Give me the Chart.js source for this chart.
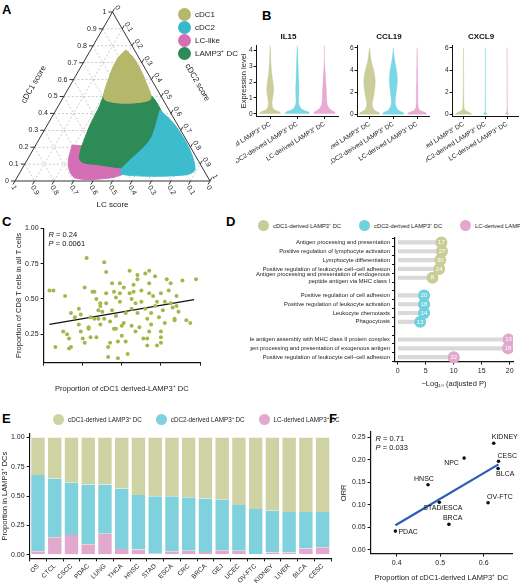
<!DOCTYPE html>
<html><head><meta charset="utf-8">
<script src="https://cdn.jsdelivr.net/npm/chart.js@4.4.0/dist/chart.umd.min.js"></script>
<style>
body{margin:0;width:520px;height:586px;position:relative;background:#fff;font-family:"Liberation Sans",Arial,sans-serif;overflow:hidden}
.p{position:absolute}
.lt{position:absolute;font-weight:bold;font-size:13px}
.lg{position:absolute;font-size:6.3px;color:#222;display:flex;align-items:center;white-space:nowrap}
.dot{display:inline-block;width:11px;height:11px;border-radius:50%;margin:0 4px 0 8px}
</style></head><body>
<div class="lt" style="left:2px;top:2px">A</div>
<div class="lt" style="left:262px;top:8px">B</div>
<div class="lt" style="left:2px;top:214px">C</div>
<div class="lt" style="left:226px;top:214px">D</div>
<div class="lt" style="left:2px;top:411px">E</div>
<div class="lt" style="left:329px;top:411px">F</div>

<canvas id="cA" class="p" style="left:0;top:0" width="260" height="212"></canvas>
<canvas id="cB1" class="p" style="left:236px;top:28px" width="104" height="140"></canvas>
<canvas id="cB2" class="p" style="left:331px;top:28px" width="100" height="140"></canvas>
<canvas id="cB3" class="p" style="left:426px;top:28px" width="94" height="140"></canvas>
<canvas id="cC" class="p" style="left:0;top:222px" width="250" height="175"></canvas>
<canvas id="cD" class="p" style="left:250px;top:232px" width="270" height="160"></canvas>
<canvas id="cE" class="p" style="left:0;top:424px" width="335" height="162"></canvas>
<canvas id="cF" class="p" style="left:335px;top:424px" width="185" height="162"></canvas>

<div class="lg" style="left:170px;top:8px;flex-direction:column;align-items:flex-start;font-size:8px;line-height:12px">
 <div style="display:flex;align-items:center"><span class="dot" style="background:#b5b86a;width:13px;height:13px"></span>cDC1</div>
 <div style="display:flex;align-items:center"><span class="dot" style="background:#36b8cc;width:13px;height:13px"></span>cDC2</div>
 <div style="display:flex;align-items:center"><span class="dot" style="background:#d56fb5;width:13px;height:13px"></span>LC-like</div>
 <div style="display:flex;align-items:center"><span class="dot" style="background:#2e8b57;width:13px;height:13px"></span>LAMP3⁺ DC</div>
</div>
<div class="lg" style="left:250px;top:220px;font-size:5.8px">
 <span class="dot" style="background:#c9cc94"></span>cDC1-derived LAMP3⁺ DC
 <span class="dot" style="background:#6fd0de;margin-left:18px"></span>cDC2-derived LAMP3⁺ DC
 <span class="dot" style="background:#e3a6cc;margin-left:18px"></span>LC-derived LAMP3⁺ DC
</div>
<div class="lg" style="left:45px;top:414px">
 <span class="dot" style="background:#cfd3a4"></span>cDC1-derived LAMP3⁺ DC
 <span class="dot" style="background:#7fd1de;margin-left:14px"></span>cDC2-derived LAMP3⁺ DC
 <span class="dot" style="background:#e3a9cc;margin-left:14px"></span>LC-derived LAMP3⁺ DC
</div>
<script>
Chart.defaults.font.family = '"Liberation Sans", Arial, sans-serif';
Chart.defaults.font.size = 7;
Chart.defaults.color = '#222';
Chart.defaults.animation = false;
Chart.defaults.plugins.legend.display = false;
Chart.defaults.plugins.tooltip.enabled = false;

// ---------- A: ternary score regions, [cDC1 score, cDC2 score]
let regionCDC1 = [[.776,.181],[.717,.257],[.598,.368],[.480,.452],[.480,.222],[.628,.173],[.728,.164]]
let regionCDC2 = [[.420,.534],[.331,.655],[.184,.805],[.065,.890],[.036,.854],[.030,.626],[.053,.512],[.243,.571]]
let regionLAMP3 = [[.728,.210],[.568,.357],[.480,.478],[.331,.619],[.184,.744],[.124,.682],[.077,.551],[.095,.388],[.124,.271],[.302,.223],[.450,.211],[.628,.183]]
let regionLC = [[.213,.186],[.196,.312],[.136,.445],[.053,.537],[.018,.478],[.018,.299],[.095,.225]]
let ternTicks = [0,.1,.2,.3,.4,.5,.6,.7,.8,.9,1]

function tern(c1, c2){ return {x: c2 + c1/2, y: c1*0.866} }
function poly(list){ let pts = list.map(p => tern(p[0],p[1])); pts.push(pts[0]); return pts }

let ternPlugin = {
  id:'tern',
  beforeDatasetsDraw(chart){
    let ctx = chart.ctx, xs = chart.scales.x, ys = chart.scales.y
    let P = (c1,c2) => { let t = tern(c1,c2); return [xs.getPixelForValue(t.x), ys.getPixelForValue(t.y)] }
    ctx.save(); ctx.strokeStyle='#aaa'; ctx.lineWidth=0.6; ctx.setLineDash([2,2])
    for(let v of ternTicks.slice(1,10)){
      let segs = [[P(v,0),P(v,1-v)],[P(0,v),P(1-v,v)],[P(1-v,0),P(0,1-v)]]
      for(let s of segs){ ctx.beginPath(); ctx.moveTo(...s[0]); ctx.lineTo(...s[1]); ctx.stroke() }
    }
    ctx.restore()
  },
  afterDatasetsDraw(chart){
    let ctx = chart.ctx, xs = chart.scales.x, ys = chart.scales.y
    let P = (c1,c2) => { let t = tern(c1,c2); return [xs.getPixelForValue(t.x), ys.getPixelForValue(t.y)] }
    ctx.save(); ctx.strokeStyle='#333'; ctx.lineWidth=1
    ctx.beginPath(); ctx.moveTo(...P(1,0)); ctx.lineTo(...P(0,1)); ctx.lineTo(...P(0,0)); ctx.closePath(); ctx.stroke()
    ctx.fillStyle='#222'; ctx.font='7px "Liberation Sans"'
    for(let v of ternTicks){
      let a = P(v,0); ctx.beginPath(); ctx.moveTo(a[0],a[1]); ctx.lineTo(a[0]-4,a[1]); ctx.stroke()
      ctx.textAlign='right'; ctx.textBaseline='middle'; ctx.fillText(String(v), a[0]-6, a[1])
      let b = P(1-v,v); ctx.beginPath(); ctx.moveTo(b[0],b[1]); ctx.lineTo(b[0]+2,b[1]-3.5); ctx.stroke()
      ctx.save(); ctx.translate(b[0]+4,b[1]-6); ctx.rotate(Math.PI/3); ctx.textAlign='left'; ctx.fillText(String(v),0,0); ctx.restore()
      let c = P(0,1-v); ctx.beginPath(); ctx.moveTo(c[0],c[1]); ctx.lineTo(c[0]-2,c[1]+3.5); ctx.stroke()
      ctx.save(); ctx.translate(c[0]-2,c[1]+5); ctx.rotate(Math.PI/3); ctx.textAlign='left'; ctx.fillText(String(v),0,0); ctx.restore()
    }
    ctx.font='8px "Liberation Sans"'; ctx.textAlign='center'
    let l = P(.5,0); ctx.save(); ctx.translate(l[0]-30,l[1]-12); ctx.rotate(-Math.PI/3); ctx.fillText('cDC1 score',0,0); ctx.restore()
    let r = P(.5,.5); ctx.save(); ctx.translate(r[0]+36,r[1]-14); ctx.rotate(Math.PI/3); ctx.fillText('cDC2 score',0,0); ctx.restore()
    let bt = P(0,.5); ctx.fillText('LC score', bt[0], bt[1]+24)
    ctx.restore()
  }
}
function regionSet(list, color){ return {data: poly(list), showLine:true, fill:'shape', backgroundColor:color, borderColor:color, borderWidth:1, pointRadius:0, tension:0.3} }
new Chart(document.getElementById('cA'), {
  type:'scatter',
  data:{datasets:[regionSet(regionCDC1,'#b5b86a'), regionSet(regionCDC2,'#3cbccd'), regionSet(regionLAMP3,'#2e8b57'), regionSet(regionLC,'#d56fb5')]},
  options:{responsive:false, layout:{padding:{left:15,right:50,top:12,bottom:31}},
    scales:{x:{display:false,min:0,max:1}, y:{display:false,min:0,max:0.866}}},
  plugins:[ternPlugin]
})

// ---------- B: violins (half-width at each expression level)
let violinGroups = ['cDC1-derived LAMP3⁺ DC','cDC2-derived LAMP3⁺ DC','LC-derived LAMP3⁺ DC']
let violinColors = ['rgba(190,194,130,0.8)','rgba(90,205,222,0.8)','rgba(225,150,200,0.8)']
let il15Levels = [0,0.1,0.3,0.6,1,1.5,2,2.5,3,3.5,4,4.3]
let il15Width = [[0.38,0.36,0.12,0.07,0.09,0.13,0.1,0.06,0.035,0.02,0.01,0],
                 [0.44,0.42,0.16,0.06,0.05,0.06,0.05,0.04,0.03,0.02,0.01,0],
                 [0.4,0.38,0.2,0.1,0.08,0.07,0.05,0.035,0.015,0,0,0]]
let chemLevels = [0,0.15,0.4,0.8,1.2,1.6,2,2.5,3,3.5,4,4.5,5,5.5,6]
let ccl19Width = [[0.42,0.4,0.2,0.12,0.13,0.17,0.2,0.23,0.24,0.22,0.17,0.11,0.06,0.03,0],
                  [0.44,0.42,0.2,0.1,0.08,0.1,0.12,0.15,0.17,0.16,0.13,0.09,0.05,0.02,0],
                  [0.4,0.36,0.1,0.04,0.03,0.03,0.03,0.03,0.02,0.02,0.02,0.01,0.01,0.005,0]]
let cxcl9Width = [[0.4,0.3,0.06,0.025,0.02,0.015,0.012,0.01,0.01,0.008,0.006,0.005,0.004,0.002,0],
                  [0.1,0.03,0.008,0.005,0.004,0.003,0.003,0.002,0.002,0.002,0.001,0.001,0.001,0,0],
                  [0.1,0.03,0.008,0.005,0.004,0.003,0.003,0.002,0.002,0.002,0.001,0.001,0,0,0]]

function violin(levels, widths, pos){
  let right = levels.map((y,i) => ({x: pos + widths[i], y}))
  let left = levels.map((y,i) => ({x: pos - widths[i], y})).reverse()
  return right.concat(left)
}
function violinChart(id, title, levels, widths, ymax, yTitle, padLeft){
  new Chart(document.getElementById(id), {
    type:'scatter',
    data:{datasets: widths.map((w,i) => ({data: violin(levels,w,i+1), showLine:true, fill:'shape', tension:0.3,
      backgroundColor:violinColors[i], borderColor:violinColors[i], borderWidth:0.4, pointRadius:0}))},
    options:{responsive:false, layout:{padding:{top:0,right:2,left:padLeft}},
      plugins:{title:{display:true,text:title,font:{size:8,weight:'bold'},padding:{top:4,bottom:4},color:'#111'}},
      scales:{
        x:{min:0.5,max:3.5, afterBuildTicks(s){ s.ticks=[{value:1},{value:2},{value:3}] },
          afterFit(s){ s.paddingLeft = 0; s.paddingRight = 0 },
          ticks:{callback:v => violinGroups[v-1], maxRotation:32, minRotation:32, font:{size:6.5}, padding:1},
          grid:{drawOnChartArea:false,color:'#111',tickLength:3}, border:{color:'#111',width:1}},
        y:{min:-0.15,max:ymax, afterBuildTicks(s){ s.ticks=[]; for(let v=0; v<=ymax; v+= (ymax>5?2:1)) s.ticks.push({value:v}) },
          ticks:{font:{size:6.5},padding:1}, title:{display:!!yTitle,text:yTitle,font:{size:7.5},padding:0},
          grid:{drawOnChartArea:false,color:'#111',tickLength:3}, border:{color:'#111',width:1}}
      }}
  })
}
violinChart('cB1','IL15',il15Levels,il15Width,4.3,'Expression level',3)
violinChart('cB2','CCL19',chemLevels,ccl19Width,6.2,'',18)
violinChart('cB3','CXCL9',chemLevels,cxcl9Width,6.2,'',18)

// ---------- C: scatter
let cdc1Prop = [.08,.10,.11,.16,.15,.17,.18,.19,.19,.18,.21,.23,.24,.24,.25,.26,.27,.26,.28,.28,.29,.29,.30,.31,.32,.33,.33,.34,.34,.34,.35,.36,.36,.37,.37,.38,.38,.39,.40,.41,.41,.42,.40,.42,.43,.43,.44,.44,.44,.45,.45,.46,.47,.47,.48,.49,.49,.50,.50,.51,.51,.52,.53,.53,.53,.54,.55,.55,.56,.57,.58,.59,.59,.59,.60,.60,.61,.62,.62,.63,.64,.65,.65,.65,.66,.67,.67,.68,.69,.70,.70,.71,.72,.72,.73,.73,.74,.76,.78,.83,.80,.58,.65,.52,.46,.39,.31,.23,.32,.59,.57,.58,.63,.42,.37,.50]
let cd8Prop = [.56,.56,.16,.52,.27,.25,.15,.16,.40,.22,.37,.43,.39,.27,.22,.19,.79,.58,.29,.30,.23,.37,.55,.55,.50,.42,.36,.32,.47,.45,.41,.36,.76,.69,.47,.16,.09,.19,.42,.29,.55,.38,.61,.29,.08,.20,.54,.61,.48,.31,.24,.58,.40,.20,.11,.70,.54,.43,.31,.55,.60,.47,.67,.64,.40,.30,.56,.48,.22,.43,.36,.27,.54,.61,.40,.32,.52,.45,.66,.48,.37,.27,.23,.54,.42,.33,.48,.64,.56,.47,.61,.44,.36,.35,.52,.45,.41,.63,.35,.64,.33,.17,.19,.27,.33,.34,.36,.32,.23,.70,.68,.22,.17,.51,.54,.50]
let cFitX = [0.08, 0.82]
let cFitY = [0.32, 0.495]
let axisCommon = {grid:{drawOnChartArea:false,color:'#111',tickLength:3}, border:{color:'#111',width:1.2}, ticks:{font:{size:7},padding:2}}
let statPlugin = (lines) => ({id:'stat', afterDatasetsDraw(chart){
  let ctx = chart.ctx, a = chart.chartArea
  ctx.save(); ctx.fillStyle='#111'; ctx.textBaseline='top'
  lines.forEach((l,i) => {
    ctx.font='italic 7.5px "Liberation Sans"'; ctx.fillText(l[0], a.left+5, a.top+3+i*9)
    let w = ctx.measureText(l[0]).width
    ctx.font='7.5px "Liberation Sans"'; ctx.fillText(l[1], a.left+5+w, a.top+3+i*9)
  })
  ctx.restore()
}})
new Chart(document.getElementById('cC'), {
  type:'scatter',
  data:{datasets:[
    {data: cdc1Prop.map((x,i) => ({x, y: cd8Prop[i]})), pointRadius:2, backgroundColor:'#a9b54a', borderWidth:0},
    {data: cFitX.map((x,i) => ({x, y: cFitY[i]})), showLine:true, borderColor:'#111', borderWidth:1.3, pointRadius:0}
  ]},
  options:{responsive:false, layout:{padding:{right:50,top:4,left:14}},
    scales:{
      x:{...axisCommon, min:0.05, max:0.85, ticks:{...axisCommon.ticks, stepSize:0.2, callback:v => [0.2,0.4,0.6,0.8].some(t => Math.abs(t-v)<1e-6) ? v.toFixed(1) : ''},
        title:{display:true,text:'Proportion of cDC1 derived-LAMP3⁺ DC',font:{size:7.5},padding:{top:6}}},
      y:{...axisCommon, min:0.05, max:1.0, afterBuildTicks(s){ s.ticks=[.25,.5,.75,1].map(v=>({value:v})) },
        ticks:{...axisCommon.ticks, callback:v => v.toFixed(2)},
        title:{display:true,text:'Proportion of CD8 T cells in all T cells',font:{size:7.5},padding:0}}
    }},
  plugins:[statPlugin([['R',' = 0.24'],['P',' = 0.0061']])]
})

// ---------- D: GO lollipops
let goTerms = ['Antigen processing and presentation','Positive regulation of lymphocyte activation','Lymphocyte differentiation',
  'Positive regulation of leukocyte cell–cell adhesion',['Antigen processing and presentation of endogenous','peptide antigen via MHC class I'],'',
  'Positive regulation of cell adhesion','Positive regulation of leukocyte activation','Leukocyte chemotaxis','Phagocytosis','',
  'Peptide antigen assembly with MHC class II protein complex','Antigen processing and presentation of exogenous antigen','Positive regulation of leukocyte cell–cell adhesion']
let goLogP = [7.8,7.9,7.6,7.4,6.2,null,4.7,4.7,4.7,4.0,null,19.8,19.7,10.0]
let goCounts = [17,27,30,24,8,null,20,18,14,13,null,13,18,22]
let goGroup = [0,0,0,0,0,null,1,1,1,1,null,2,2,2]
let goColors = ['#c9cc94','#6fd0de','#e3a6cc']
let countPlugin = {id:'counts', afterDatasetsDraw(chart){
  let ctx = chart.ctx, meta = chart.getDatasetMeta(1)
  ctx.save(); ctx.fillStyle='#fff'; ctx.font='6px "Liberation Sans"'; ctx.textAlign='center'; ctx.textBaseline='middle'
  meta.data.forEach((pt,i) => { if(goCounts[i] != null) ctx.fillText(String(goCounts[i]), pt.x, pt.y) })
  ctx.restore()
}}
new Chart(document.getElementById('cD'), {
  data:{labels: goTerms, datasets:[
    {type:'bar', data: goLogP, backgroundColor:'#d9d9d9', barThickness:3.5, order:2},
    {type:'line', data: goLogP, showLine:false, pointRadius:6, borderWidth:0, order:1,
      pointBackgroundColor: goGroup.map(g => g==null ? 'transparent' : goColors[g])}
  ]},
  options:{responsive:false, indexAxis:'y', layout:{padding:{right:7}},
    scales:{
      x:{...axisCommon, min:-0.5, max:20.6, afterBuildTicks(s){ s.ticks=[0,5,10,15,20].map(v=>({value:v})) },
        title:{display:true,text:'−Log₁₀ (adjusted P)',font:{size:7.5},padding:{top:2}}},
      y:{...axisCommon, afterFit(s){ s.width = 145 }, ticks:{font:{size:5.8},padding:2,autoSkip:false}, offset:true}
    }},
  plugins:[countPlugin]
})

// ---------- E: stacked proportions
let cancerTypes = ['OS','CTCL','CSCC','PDAC','LUNG','THCA','HNSC','STAD','ESCA','CRC','BRCA','GEJ','UCEC','OV-FTC','KIDNEY','LIVER','BLCA','CESC']
let lcShare = [.03,.15,.17,.09,.18,.05,.045,.01,.03,.035,.025,.04,.035,.005,.02,.02,.055,.065]
let cdc2Share = [.65,.50,.445,.51,.42,.515,.465,.49,.47,.455,.455,.43,.39,.385,.355,.345,.31,.30]
let cdc1Share = [.32,.35,.385,.40,.40,.435,.49,.50,.50,.51,.52,.53,.575,.61,.625,.635,.635,.635]
let barStyle = {borderColor:'#fff', borderWidth:{left:1,right:1}, borderSkipped:false, categoryPercentage:1, barPercentage:0.92}
new Chart(document.getElementById('cE'), {
  type:'bar',
  data:{labels: cancerTypes, datasets:[
    {data: lcShare, backgroundColor:'#e3a9cc', ...barStyle},
    {data: cdc2Share, backgroundColor:'#7fd1de', ...barStyle},
    {data: cdc1Share, backgroundColor:'#cfd3a4', ...barStyle}
  ]},
  options:{responsive:false, layout:{padding:{top:10,right:4}},
    scales:{
      x:{...axisCommon, stacked:true, ticks:{font:{size:6.5},maxRotation:45,minRotation:45,padding:1,autoSkip:false}},
      y:{...axisCommon, stacked:true, min:-0.03, max:1.03, afterBuildTicks(s){ s.ticks=[0,.25,.5,.75,1].map(v=>({value:v})) },
        ticks:{...axisCommon.ticks, callback:v => v.toFixed(2)},
        title:{display:true,text:'Proportion in LAMP3⁺ DCs',font:{size:7.5},padding:0}}
    }}
})

// ---------- F: ORR vs cDC1 share
let fTypes = ['PDAC','HNSC','STAD/ESCA','BRCA','NPC','OV-FTC','KIDNEY','CESC','BLCA']
let fCdc1 = [0.397,0.472,0.498,0.52,0.555,0.61,0.623,0.634,0.633]
let fOrr = [0.042,0.145,0.106,0.057,0.204,0.105,0.237,0.197,0.181]
let fLabelDx = [3,-14,-16,-6,-20,-1,-2,-1,-2]
let fLabelDy = [-3,-9,2,-10,1,-9,-10,-9,2]
let fFitX = [0.397,0.634]
let fFitY = [0.055,0.19]
let fLabelPlugin = {id:'flabels', afterDatasetsDraw(chart){
  let ctx = chart.ctx, meta = chart.getDatasetMeta(1)
  ctx.save(); ctx.fillStyle='#111'; ctx.font='7px "Liberation Sans"'; ctx.textBaseline='top'
  meta.data.forEach((pt,i) => ctx.fillText(fTypes[i], pt.x+fLabelDx[i], pt.y+fLabelDy[i]))
  ctx.restore()
}}
new Chart(document.getElementById('cF'), {
  type:'scatter',
  data:{datasets:[
    {data: fFitX.map((x,i) => ({x, y:fFitY[i]})), showLine:true, borderColor:'#2a5cb8', borderWidth:2.2, pointRadius:0},
    {data: fCdc1.map((x,i) => ({x, y:fOrr[i]})), pointRadius:1.8, backgroundColor:'#111', borderWidth:0}
  ]},
  options:{responsive:false, layout:{padding:{top:8,right:8}},
    scales:{
      x:{...axisCommon, min:0.34, max:0.665, afterBuildTicks(s){ s.ticks=[.4,.5,.6].map(v=>({value:v})) },
        ticks:{...axisCommon.ticks, callback:v => v.toFixed(1)},
        title:{display:true,text:'Proportion of cDC1-derived LAMP3⁺ DC',font:{size:7.5},padding:{top:4}}},
      y:{...axisCommon, min:-0.008, max:0.262, afterBuildTicks(s){ s.ticks=[0,.05,.1,.15,.2,.25].map(v=>({value:v})) },
        ticks:{...axisCommon.ticks, callback:v => v.toFixed(2)},
        title:{display:true,text:'ORR',font:{size:7.5},padding:{bottom:2}}}
    }},
  plugins:[fLabelPlugin, statPlugin([['R',' = 0.71'],['P',' = 0.033']])]
})
</script>
</body></html>
